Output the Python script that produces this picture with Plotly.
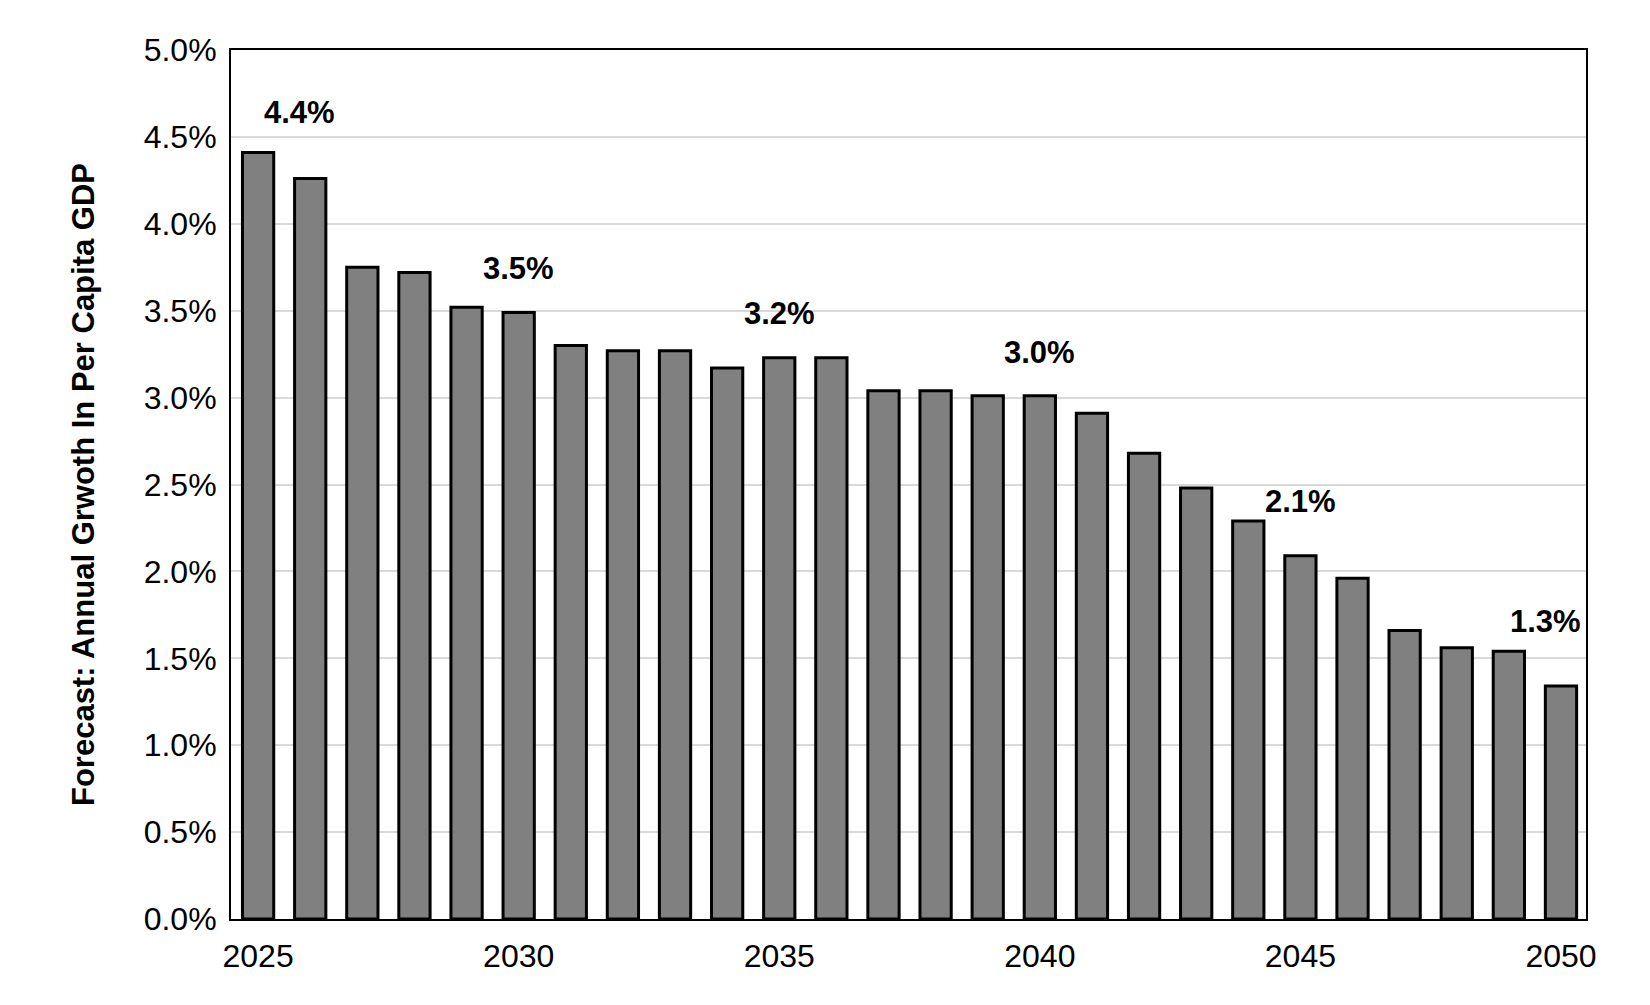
import plotly.graph_objects as go

years = list(range(2025, 2051))
growth = [4.41, 4.26, 3.75, 3.72, 3.52, 3.49, 3.30, 3.27, 3.27, 3.17, 3.23, 3.23, 3.04,
          3.04, 3.01, 3.01, 2.91, 2.68, 2.48, 2.29, 2.09, 1.96, 1.66, 1.56, 1.54, 1.34]
label_years = [2025, 2030, 2035, 2040, 2045, 2050]
label_text = ["4.4%", "3.5%", "3.2%", "3.0%", "2.1%", "1.3%"]
label_xoff = [0.8, 0, 0, 0, 0, -0.3]
label_yoff = [0.12, 0.14, 0.14, 0.14, 0.2, 0.26]

fig = go.Figure(go.Bar(x=years, y=growth, width=0.6,
                       marker=dict(color="#808080", line=dict(color="black", width=3))))
for yr, t, dx, dy in zip(label_years, label_text, label_xoff, label_yoff):
    v = growth[years.index(yr)]
    fig.add_annotation(x=yr + dx, y=v + dy, text="<b>" + t + "</b>", showarrow=False,
                       yanchor="bottom", font=dict(size=31, color="black"))

fig.update_layout(
    width=1650, height=1005, plot_bgcolor="white", paper_bgcolor="white",
    margin=dict(l=223, r=72, t=42, b=94),
    font=dict(family="Liberation Sans, Arial", size=32, color="black"),
    showlegend=False,
    xaxis=dict(range=[2024.48, 2050.48], tickvals=[2025, 2030, 2035, 2040, 2045, 2050],
               showline=True, linecolor="black", linewidth=2, mirror=True,
               ticks="outside", ticklen=8, tickcolor="white",
               showgrid=False),
    yaxis=dict(range=[0, 5], dtick=0.5, tickformat=".1f", ticksuffix="%",
               showline=True, linecolor="black", linewidth=2, mirror=True,
               ticks="outside", ticklen=6, tickcolor="white",
               gridcolor="#d9d9d9", gridwidth=2,
               title=dict(text="<b>Forecast: Annual Grwoth In Per Capita GDP</b>",
                          font=dict(size=31), standoff=40)),
)
fig.write_html("out.html")
